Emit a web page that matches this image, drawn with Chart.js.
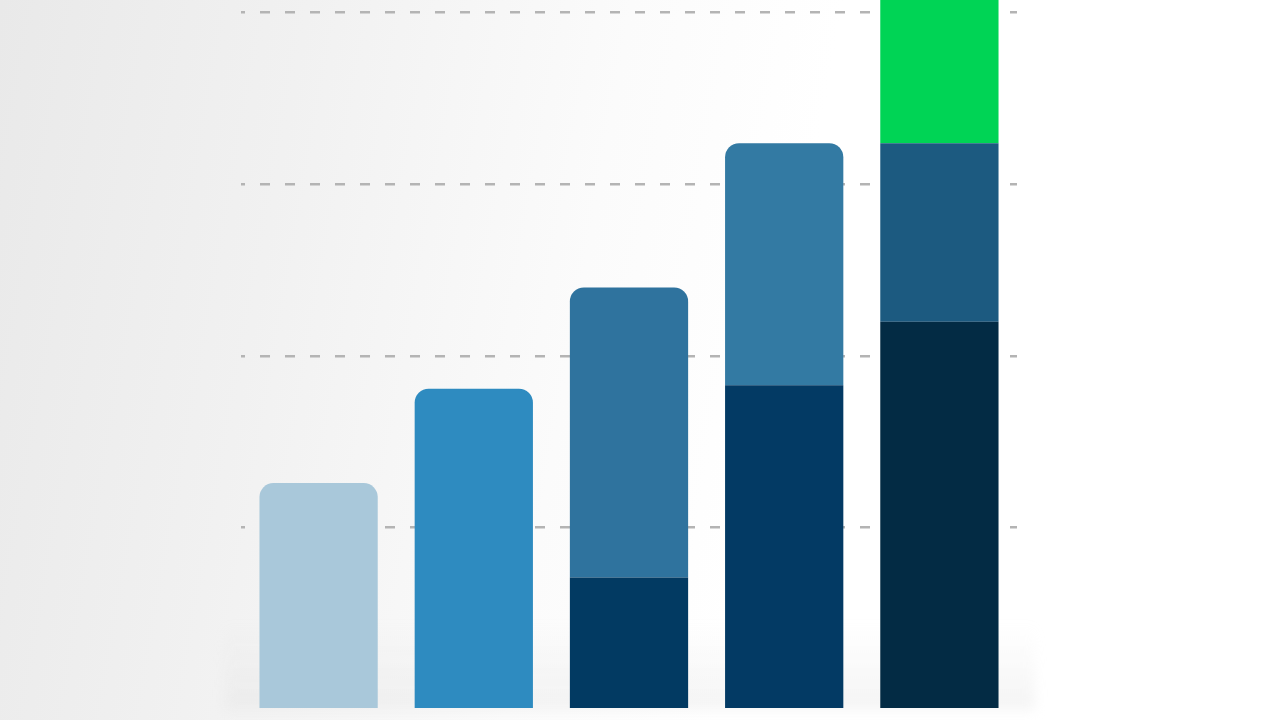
<!DOCTYPE html>
<html>
<head>
<meta charset="utf-8">
<script src="https://cdn.jsdelivr.net/npm/chart.js@4/dist/chart.umd.min.js"></script>
<style>
    html, body {
        margin: 0;
        padding: 0;
        width: 1280px;
        height: 720px;
        overflow: hidden;
        background: linear-gradient(100deg, #e9e9e9 0%, #f1f1f1 22%, #fbfbfb 45%, #ffffff 60%);
    }
    #sombra {
        position: absolute;
        left: 225px;
        top: 625px;
        width: 810px;
        height: 85px;
        background: linear-gradient(180deg, rgba(225,225,225,0) 0%, rgba(225,225,225,0.35) 100%);
        filter: blur(6px);
    }
    #grafico {
        position: absolute;
        left: 0;
        top: 0;
    }
</style>
</head>
<body>
<div id="sombra"></div>
<canvas id="grafico" width="1280" height="720"></canvas>
<script>
// Dados do gráfico (unidades = espaço entre as linhas tracejadas)
const categorias = ['1', '2', '3', '4', '5'];
const serieBase = [1.31, 1.86, 0.76, 1.88, 2.25];
const serieMeio = [0, 0, 1.69, 1.41, 1.04];
const serieTopo = [0, 0, 0, 0, 1.05];
const linhasGrade = [1.05, 2.05, 3.05, 4.05];
const eixoMax = 4.124;

// Cores de cada barra
const coresBase = ['#a9c8da', '#2e8bc0', '#023a62', '#033a64', '#032b44'];
const coresMeio = ['#2f739e', '#2f739e', '#2f739e', '#337aa3', '#1c5a80'];
const coresTopo = ['#00d455', '#00d455', '#00d455', '#00d455', '#00d455'];

const series = [serieBase, serieMeio, serieTopo];

// Só arredonda o segmento de cima de cada pilha
function raio(ctx) {
    const i = ctx.dataIndex;
    const d = ctx.datasetIndex;
    for (let k = d + 1; k < series.length; k++) {
        if (series[k][i] > 0) return 0;
    }
    return { topLeft: 14, topRight: 14, bottomLeft: 0, bottomRight: 0 };
}

function montarDataset(valores, cores) {
    return {
        data: valores,
        backgroundColor: cores,
        borderWidth: 0,
        borderRadius: raio,
        borderSkipped: 'start',
        categoryPercentage: 0.762,
        barPercentage: 1
    };
}

var ctxGrafico = document.getElementById('grafico').getContext('2d');
new Chart(ctxGrafico, {
    type: 'bar',
    data: {
        labels: categorias,
        datasets: [
            montarDataset(serieBase, coresBase),
            montarDataset(serieMeio, coresMeio),
            montarDataset(serieTopo, coresTopo)
        ]
    },
    options: {
        responsive: false,
        animation: false,
        layout: {
            padding: { left: 241, right: 263, top: 0, bottom: 12 }
        },
        plugins: {
            legend: { display: false },
            tooltip: { enabled: false }
        },
        scales: {
            x: {
                stacked: true,
                display: false,
                grid: { display: false }
            },
            y: {
                stacked: true,
                min: 0,
                max: eixoMax,
                ticks: { display: false },
                afterBuildTicks: function (axis) {
                    axis.ticks = linhasGrade.map(v => ({ value: v }));
                },
                border: { display: false, dash: [10, 15], dashOffset: 6 },
                grid: {
                    color: '#b4b4b4',
                    lineWidth: 2.5,
                    drawTicks: false
                }
            }
        }
    }
});
</script>
</body>
</html>
